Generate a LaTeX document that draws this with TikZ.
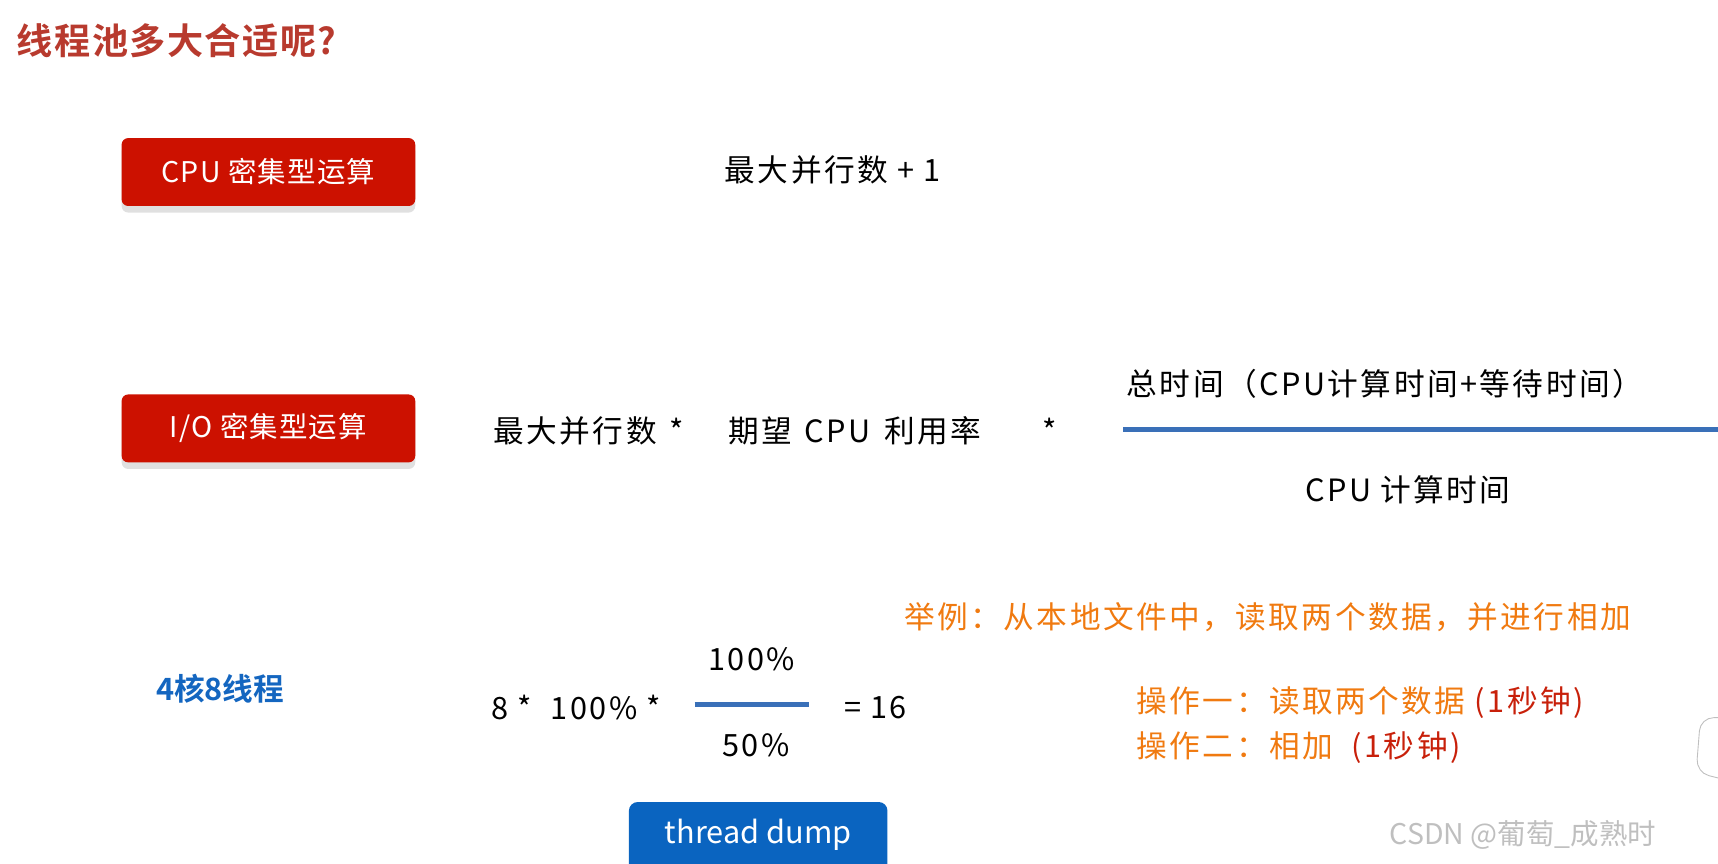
\documentclass[tikz,border=0pt]{standalone}
\usepackage{fontspec}
\setmainfont{Noto Sans CJK SC}
\newfontfamily\cjkb{Noto Sans CJK SC Bold}
\definecolor{boxred}{HTML}{CC1100}
\definecolor{titlered}{HTML}{B83A2E}
\definecolor{lineblue}{HTML}{3A70B8}
\definecolor{orng}{HTML}{F07A10}
\definecolor{dred}{HTML}{C8200A}
\definecolor{kblue}{HTML}{1466C0}
\definecolor{tdblue}{HTML}{0A64C0}
\tikzset{
 redbox/.style={fill=boxred,rounded corners=3pt,minimum width=134pt,minimum height=31pt,text=white,font=\fontsize{13}{15}\selectfont\addfontfeatures{LetterSpace=4}},
 shadowbox/.style={fill=black!12,rounded corners=3pt,minimum width=134pt,minimum height=31pt},
 txt/.style={font=\fontsize{14}{16}\selectfont\addfontfeatures{LetterSpace=8},inner sep=0pt},
 sep/.style={draw=lineblue,line width=2pt}
}
\begin{document}
\begin{tikzpicture}[x=0.5pt,y=-0.5pt]
\useasboundingbox (0,0) rectangle (1568,788);
\node[anchor=west,inner sep=0pt,text=titlered,font=\cjkb\fontsize{16.5}{18}\selectfont\addfontfeatures{LetterSpace=4}] (title) at (15,37) {线程池多大合适呢?};
\node[shadowbox] (s1) at (245,163) {};
\node[redbox] (cpu) at (245,157) {CPU 密集型运算};
\node[txt] (f1) at (760,155) {最大并行数 + 1};
\node[shadowbox] (s2) at (245,397) {};
\node[redbox] (io) at (245,391) {I/O 密集型运算};
\node[txt,anchor=west] (f2) at (450,393) {最大并行数\hspace{6pt}*\hspace{20pt}期望\hspace{6pt}CPU\hspace{6pt}利用率\hspace{28pt}*};
\node[txt,anchor=west] (num) at (1028,350) {总时间（CPU计算时间+等待时间）};
\coordinate (l1a) at (1025,392); \coordinate (l1b) at (1568,392);
\draw[sep] (l1a) -- (l1b);
\node[txt] (den) at (1285,447) {CPU 计算时间};
\node[txt,anchor=west,text=orng] (ex) at (825,563) {举例：从本地文件中，读取两个数据，并进行相加};
\node[inner sep=0pt,text=kblue,font=\cjkb\fontsize{14}{16}\selectfont] (core) at (201,629) {4核8线程};
\node[txt,anchor=west] (calc) at (448,646) {8 *\ \ 100\% *};
\node[txt] (n2) at (686,602) {100\%};
\coordinate (l2a) at (634,643); \coordinate (l2b) at (738,643);
\draw[sep] (l2a) -- (l2b);
\node[txt] (d2) at (690,680) {50\%};
\node[txt,anchor=west] (res) at (770,646) {= 16};
\node[txt,anchor=west,text=orng] (op1) at (1037,641) {操作一：读取两个数据 \textcolor{dred}{(1秒钟)}};
\node[txt,anchor=west,text=orng] (op2) at (1037,682) {操作二：相加\ \ \textcolor{dred}{(1秒钟)}};
\fill[tdblue,rounded corners=4pt] (574,800) -- (574,732) -- (810,732) -- (810,800) -- cycle;
\node[text=white,font=\fontsize{14}{16}\selectfont,inner sep=0pt] (td) at (692,762) {thread dump};
\node[text=black!25,font=\fontsize{13}{15}\selectfont,anchor=west,inner sep=0pt] (wm) at (1268,762) {CSDN @葡萄\_成熟时};
\draw[black!25,rounded corners=6pt] (1568,655) -- (1552,655) -- (1548,705) -- (1568,710);
\end{tikzpicture}
\end{document}
